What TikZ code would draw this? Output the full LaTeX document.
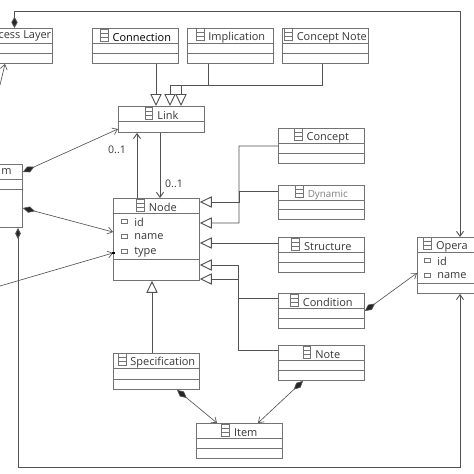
\documentclass[tikz,border=0pt]{standalone}
\usepackage{fontspec}
\setmainfont{Open Sans}
\usetikzlibrary{arrows.meta, calc}

\definecolor{umlline}{gray}{0.45}
\definecolor{umltext}{gray}{0.22}

\tikzset{
  classbox/.style={rectangle, draw=umlline, line width=0.7pt, fill=white, inner sep=0pt, anchor=north west},
  classtitle/.style={inner sep=0pt, text=umltext, font=\fontsize{7.8}{9}\selectfont},
  attrlabel/.style={inner sep=0pt, anchor=west, text=umltext, font=\fontsize{7.8}{9}\selectfont},
  attricon/.style={rectangle, draw=umlline, line width=0.4pt, minimum width=4.6pt, minimum height=2.6pt, inner sep=0pt},
  sepline/.style={draw=umlline, line width=0.6pt},
  link/.style={draw=black!68, line width=0.65pt},
  generalize/.style={link, -{Triangle[open, fill=white, length=8.5pt, width=8pt]}},
  assoc/.style={link, line width=0.45pt, -{Straight Barb[length=3.5pt, width=5pt]}},
  compose/.style={link, line width=0.45pt, {Diamond[length=9pt, width=4.5pt, fill=black!85]}-{Straight Barb[length=3.5pt, width=5pt]}},
  multlabel/.style={inner sep=0pt, text=umltext, font=\fontsize{7.5}{9}\selectfont},
}

% little class glyph in front of every title
\newcommand{\classglyph}{\tikz[baseline=0.2pt, x=1pt, y=1pt]{
  \draw[umlline, line width=0.45pt] (0,0) rectangle (5.6,8.4) (0,2.8) -- (5.6,2.8) (0,5.6) -- (5.6,5.6);}\hspace{3pt}}

% name, left, top, width, height, second rule
\newcommand{\classframe}[6]{
  \node (#1) [classbox, minimum width=#4*0.71pt, minimum height=#5*0.71pt] at (#2, #3) {};
  \draw [sepline] (#2, #3+15) -- (#2+#4, #3+15);
  \draw [sepline] (#2, #3+#6) -- (#2+#4, #3+#6);
}
% same, with the title centred
\newcommand{\classnode}[7]{
  \classframe{#1}{#2}{#3}{#4}{#5}{#6}
  \node (#1-title) [classtitle] at ($(#1.north)+(0,7.5)$) {\classglyph #7};
}

\begin{document}
\begin{tikzpicture}[x=0.025cm, y=-0.025cm]
\useasboundingbox (0,0) rectangle (474,474);
\fill [white] (0,0) rectangle (474,474);

% Clases de arriba
\classframe{process}{-34}{28}{86}{35}{25}
\node (process-title) [classtitle, anchor=east] at (51.5, 35.5) {cess Layer};
\classnode{connection}{92}{28}{86}{35}{25}{\textcolor{black}{Connection}}
\classnode{implication}{187}{28}{86}{35}{25}{Implication}
\classnode{conceptnote}{282}{28}{86}{35}{25}{Concept Note}
\classnode{linkbox}{118}{106}{86}{26}{15}{Link}

% Clases de la derecha
\classnode{concept}{278}{128}{86}{35}{25}{Concept}
\classnode{dynamic}{278}{185}{86}{34}{24}{\textcolor{black!50}{\fontsize{7}{9}\selectfont Dynamic}}
\classnode{structure}{278}{237}{86}{35}{25}{Structure}
\classnode{condition}{278}{293}{86}{35}{25}{Condition}
\classnode{note}{278}{345}{86}{35}{25}{Note}
\classframe{operation}{417}{237}{86}{56}{46}
\node (operation-title) [classtitle, anchor=west] at (423, 244.5) {\classglyph Opera};

% Clases del centro y de abajo
\classnode{nodebox}{113}{198}{86}{82}{61}{Node}
\classnode{specification}{113}{353}{86}{36}{26}{Specification}
\classnode{item}{196}{423}{86}{35}{25}{Item}
\classframe{system}{-64}{164}{86}{63}{25}
\node (system-title) [classtitle, anchor=west] at (1, 171.5) {m};

% Atributos
\foreach \attr/\ypos in {id/221, name/236, type/251} {
  \node (icon-\attr) [attricon] at (124.5, \ypos) {};
  \node (label-\attr) [attrlabel] at (134, \ypos+1) {\attr};
}
\foreach \attr/\ypos in {id/260, name/275} {
  \node (opicon-\attr) [attricon] at (427.5, \ypos) {};
  \node (oplabel-\attr) [attrlabel] at (437, \ypos+1) {\attr};
}

\coordinate (leftin) at (0, 286);
\coordinate (leftup) at (0, 85);
\coordinate (topleft) at (14.5, 11);
\coordinate (topright) at (460, 11);
\coordinate (botright) at (460, 467);
\coordinate (botleft) at (18, 467);

% Herencia hacia Link
\draw [generalize] (connection.south -| 156, 0) -- (linkbox.north -| 156, 0);
\draw [generalize] (implication.south -| 208, 0) -- (208, 85) -- (181, 85) -- (linkbox.north -| 181, 0);
\draw [generalize] (conceptnote.south -| 322, 0) -- (322, 85) -- (170, 85) -- (linkbox.north -| 170, 0);

% Herencia hacia Node
\draw [generalize] (concept.west) -- (239, 146) -- (239, 223) -- (nodebox.east |- 0, 223);
\draw [generalize] (dynamic.west |- 0, 191) -- (239, 191) -- (239, 202) -- (nodebox.east |- 0, 202);
\draw [generalize] (structure.west |- 0, 243) -- (nodebox.east |- 0, 243);
\draw [generalize] (condition.west |- 0, 298) -- (238, 298) -- (238, 265) -- (nodebox.east |- 0, 265);
\draw [generalize] (note.west |- 0, 350) -- (238, 350) -- (238, 279) -- (nodebox.east |- 0, 279);
\draw [generalize] (specification.north -| 152, 0) -- (nodebox.south -| 152, 0);

% Asociaciones Link y Node
\draw [assoc, line width=0.65pt] (nodebox.north -| 137, 0) -- (linkbox.south -| 137, 0);
\draw [assoc, line width=0.65pt] (linkbox.south -| 160, 0) -- (nodebox.north -| 160, 0);
\node (multlink) [multlabel] at (117, 150) {0..1};
\node (multnode) [multlabel] at (174, 184) {0..1};

% Composiciones
\draw [compose] (system.east |- 0, 172) -- (linkbox.west |- 0, 129);
\draw [compose] (system.east |- 0, 208) -- (nodebox.west |- 0, 232);
\draw [compose] (condition.east |- 0, 311) -- (operation.west |- 0, 273);
\draw [compose] (specification.south -| 177, 0) -- (item.north -| 217, 0);
\draw [compose] (note.south -| 303, 0) -- (item.north -| 258, 0);

% Entradas desde fuera del cuadro
\draw [assoc] (leftin) -- (nodebox.west |- 0, 253);
\draw [assoc] (leftup) -- (process.south -| 5, 0);
\node (typemark) [rectangle, fill=black, minimum size=2pt, inner sep=0pt] at (113.5, 253) {};

% Marco exterior
\draw [link, {Diamond[length=8pt, width=4.5pt, fill=black!85]}-{Straight Barb[length=3.5pt, width=5pt]}] (process.north -| topleft) -- (topleft) -- (topright) -- (operation.north -| topright);
\draw [link, {Diamond[length=8pt, width=4pt, fill=black!85]}-{Straight Barb[length=3.5pt, width=5pt]}] (system.south -| botleft) -- (botleft) -- (botright) -- (operation.south -| botright);
\end{tikzpicture}
\end{document}
